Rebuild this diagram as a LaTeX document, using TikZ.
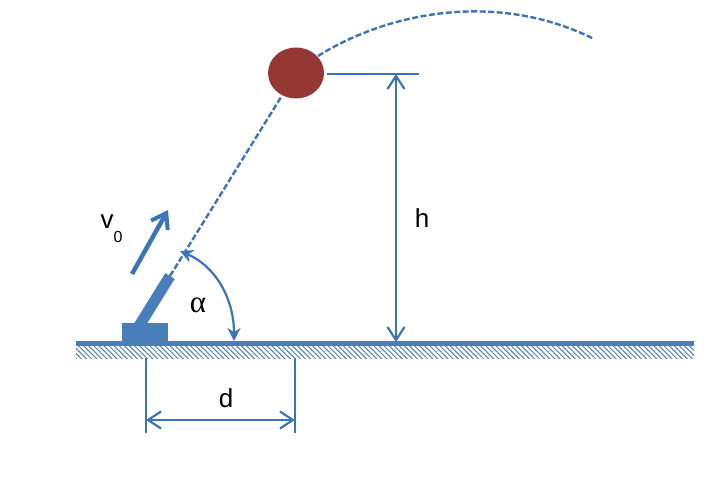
\documentclass[tikz,border=0pt]{standalone}
\usepackage{fontspec}
\setmainfont{Liberation Sans}
\newfontfamily\greekfont{Liberation Serif}
\usepackage{tikz}
\usetikzlibrary{patterns.meta,arrows.meta,shapes.geometric}
\definecolor{lineblue}{HTML}{3C74B8}
\definecolor{fillblue}{HTML}{4A7EBB}
\definecolor{ballred}{HTML}{953735}
\tikzset{
  dimline/.style={color=lineblue, line width=2.2pt},
  openarrow/.style={dimline, {Straight Barb[length=13pt,width=17pt,line width=2.2pt]}-{Straight Barb[length=13pt,width=17pt,line width=2.2pt]}},
  dashline/.style={color=lineblue, line width=2.4pt, dash pattern=on 6pt off 2.5pt},
  label/.style={inner sep=0pt, font=\fontsize{26}{26}\selectfont},
}
\begin{document}
\begin{tikzpicture}[x=1pt,y=-1pt]
\useasboundingbox (0,0) rectangle (708,476);
\coordinate (muzzle) at (170,276);
\coordinate (breech) at (139,326);
\coordinate (htop) at (396,74);
\coordinate (hbot) at (396,342);
\coordinate (hl) at (327,74);
\coordinate (hr) at (419,74);
\coordinate (arcstart) at (180,251);
\coordinate (arcend) at (234,341);
\coordinate (vtail) at (132,274);
\coordinate (vtip) at (168,210);
\coordinate (dl) at (146,358);
\coordinate (dr) at (295,358);
\coordinate (dlb) at (146,433);
\coordinate (drb) at (295,433);
\coordinate (dla) at (146,420);
\coordinate (dra) at (295,420);
\coordinate (trajstart) at (318,56);
\coordinate (trajend) at (594,39);
% ground
 \pattern[pattern={Lines[angle=-45,distance=3.6pt,line width=1pt]}, pattern color=fillblue] (76,345) rectangle (694,358);
 \fill[color=fillblue] (76,340.5) rectangle (694,345.5);
% launcher
 \node[fill=fillblue, minimum width=46pt, minimum height=18pt, inner sep=0pt] (base) at (145,332) {};
 \draw[color=fillblue, line width=11pt] (breech) -- (muzzle);
 \draw[color=lineblue, line width=4.5pt, -{Straight Barb[length=14pt,width=19pt,line width=4pt]}] (vtail) -- (vtip);
% ball and path
 \node[ellipse, fill=ballred, minimum width=56pt, minimum height=51pt, inner sep=0pt] (ball) at (296,73) {};
 \draw[dashline] (muzzle) -- (ball);
 \draw[dashline] (trajstart) .. controls (392,10) and (500,-8) .. (trajend);
% dimensions
 \draw[dimline] (hl) -- (hr);
 \draw[openarrow] (htop) -- (hbot);
 \draw[dimline] (dl) -- (dlb);
 \draw[dimline] (dr) -- (drb);
 \draw[openarrow] (dla) -- (dra);
 \draw[dimline, {Stealth[length=13pt,width=13pt]}-{Stealth[length=13pt,width=13pt]}] (arcstart) .. controls (215,266) and (234,298) .. (arcend);
% labels
 \node[label] (h) at (422,218) {h};
 \node[label] (d) at (226,398) {d};
 \node[label, font=\fontsize{31}{31}\selectfont\greekfont] (alpha) at (198,305) {α};
 \node[label] (v) at (107,222) {v};
 \node[label, font=\fontsize{16}{16}\selectfont] (zero) at (118,237) {0};
\end{tikzpicture}
\end{document}
